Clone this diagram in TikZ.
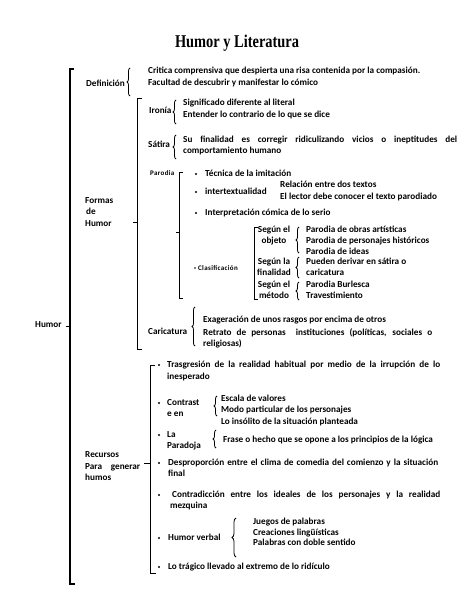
\documentclass[tikz,border=0pt]{standalone}
\usepackage{fontspec}
\usepackage{graphicx}
\setmainfont{Carlito}
\newfontfamily\titlefont{Liberation Serif}
\usetikzlibrary{decorations.pathreplacing}
\begin{document}
\begin{tikzpicture}[x=1pt,y=-1pt,
  t/.style={anchor=mid west,inner sep=0pt,font=\fontsize{9.2}{10}\selectfont\bfseries},
  tn/.style={anchor=mid,inner sep=0pt,font=\fontsize{9.2}{10}\selectfont\bfseries},
  ts/.style={anchor=mid west,inner sep=0pt,font=\fontsize{7}{8}\selectfont\bfseries\addfontfeature{LetterSpace=5}},
  brk/.style={line width=0.8pt},
  bigbrk/.style={line width=1.6pt},
  brc/.style={decorate,decoration={brace,amplitude=3pt},line width=0.8pt},
  dot/.style={circle,fill,inner sep=0pt,minimum size=2.2pt}
]
\useasboundingbox (0,0) rectangle (474,613);
\fill[white] (0,0) rectangle (474,613);

% title
\node[inner sep=0pt,font=\fontsize{18}{20}\selectfont\titlefont\bfseries] (title) at (237,43) {\scalebox{0.8}[1]{Humor y Literatura}};

% Humor bracket
\node[t] (humor) at (35,325) {Humor};
\draw[bigbrk] (74,69) -- (70,69) -- (70,584) -- (75,584);
\draw[brk] (70,326) -- (66,326);

% Definicion
\node[t] (def) at (86,84) {Definición};
\draw[brc] (130,96) -- (130,68);
\node[t] (def1) at (148,71) {Critica comprensiva que despierta una risa contenida por la compasión.};
\node[t] (def2) at (148,83) {Facultad de descubrir y manifestar lo cómico};

% Formas de Humor
\node[t] (f1) at (85,201) {Formas};
\node[t] (f2) at (86,212) {de};
\node[t] (f3) at (85,224) {Humor};
\draw[brk] (142,98) -- (137,98) -- (137,349) -- (142,349);
\draw[brk] (137,222) -- (133,222);

% Ironia
\node[t] (iro) at (149,111) {Ironía};
\draw[brc] (176,124) -- (176,100);
\node[t] (iro1) at (183,103) {Significado diferente al literal};
\node[t] (iro2) at (183,115) {Entender lo contrario de lo que se dice};

% Satira
\node[t] (sat) at (148,145) {Sátira};
\draw[brc] (176,159) -- (176,135);
\node[t] (sat1) at (183,140) {\makebox[274pt][s]{Su finalidad es corregir ridiculizando vicios o ineptitudes del}};
\node[t] (sat2) at (183,151) {comportamiento humano};

% Parodia
\node[ts] (par) at (150,173) {Parodia};
\draw[brk] (183,172) -- (179,172) -- (179,298) -- (183,298);
\draw[brk] (179,232) -- (176,232);
\node[dot] (b1) at (196,174) {};
\node[t] (p1) at (205,174) {Técnica de la imitación};
\node[dot] (b2) at (196,192) {};
\node[t] (p2) at (205,192) {intertextualidad};
\node[t] (p2a) at (280,185) {Relación entre dos textos};
\node[t] (p2b) at (280,197) {El lector debe conocer el texto parodiado};
\node[dot] (b3) at (196,213) {};
\node[t] (p3) at (205,213) {Interpretación cómica de lo serio};
\node[dot,minimum size=1.8pt] (b4) at (195,268) {};
\node[ts] (clas) at (198,268) {Clasificación};
\draw[brk] (258,227) -- (254,227) -- (254,299) -- (258,299);

\node[tn] (o1) at (274,230) {Según el};
\node[tn] (o2) at (274,241) {objeto};
\draw[brc] (299,253) -- (299,227);
\node[t] (o1a) at (306,230) {Parodia de obras artísticas};
\node[t] (o1b) at (306,241) {Parodia de personajes históricos};
\node[t] (o1c) at (306,252) {Parodia de ideas};

\node[tn] (fi1) at (274,262) {Según la};
\node[tn] (fi2) at (274,273) {finalidad};
\draw[brc] (299,278) -- (299,257);
\node[t] (fi1a) at (306,262) {Pueden derivar en sátira o};
\node[t] (fi1b) at (306,273) {caricatura};

\node[tn] (m1) at (274,285) {Según el};
\node[tn] (m2) at (274,296) {método};
\draw[brc] (299,300) -- (299,282);
\node[t] (m1a) at (306,285) {Parodia Burlesca};
\node[t] (m1b) at (306,296) {Travestimiento};

% Caricatura
\node[t] (car) at (148,332) {Caricatura};
\draw[brc] (195,346) -- (195,307);
\node[t] (car1) at (203,320) {Exageración de unos rasgos por encima de otros};
\node[t] (car2) at (203,333) {\makebox[229pt][s]{Retrato de personas \ instituciones (políticas, sociales o}};
\node[t] (car3) at (203,344) {religiosas)};

% Recursos
\node[t] (r1) at (85,455) {Recursos};
\node[t] (r2) at (85,467) {\makebox[55pt][s]{Para generar}};
\node[t] (r3) at (85,478) {humos};
\draw[brk] (155,365) -- (150,365) -- (150,573) -- (156,573);
\draw[brk] (150,463) -- (144,463);

\node[dot] (c1) at (159,365) {};
\node[t] (c1a) at (167,365) {\makebox[273pt][s]{Trasgresión de la realidad habitual por medio de la irrupción de lo}};
\node[t] (c1b) at (167,377) {inesperado};

\node[dot] (c2) at (159,403) {};
\node[t] (c2a) at (167,403) {Contrast};
\node[t] (c2b) at (167,414) {e en};
\draw[brc] (217,416) -- (217,396);
\node[t] (c2x) at (221,399) {Escala de valores};
\node[t] (c2y) at (221,410) {Modo particular de los personajes};
\node[t] (c2z) at (221,422) {Lo insólito de la situación planteada};

\node[dot] (c3) at (159,435) {};
\node[t] (c3a) at (167,435) {La};
\node[t] (c3b) at (167,446) {Paradoja};
\draw[brc] (216,448) -- (216,430);
\node[t] (c3x) at (223,440) {Frase o hecho que se opone a los principios de la lógica};

\node[dot] (c4) at (159,463) {};
\node[t] (c4a) at (168,463) {\makebox[270pt][s]{Desproporción entre el clima de comedia del comienzo y la situación}};
\node[t] (c4b) at (168,474) {final};

\node[dot] (c5) at (159,495) {};
\node[t] (c5a) at (172,495) {\makebox[268pt][s]{Contradicción entre los ideales de los personajes y la realidad}};
\node[t] (c5b) at (170,506) {mezquina};

\node[dot] (c6) at (159,538) {};
\node[t] (c6a) at (168,538) {Humor verbal};
\draw[brc,decoration={brace,amplitude=4pt}] (236,557) -- (236,518);
\node[t] (c6x) at (253,522) {Juegos de palabras};
\node[t] (c6y) at (253,533) {Creaciones lingüísticas};
\node[t] (c6z) at (253,543) {Palabras con doble sentido};

\node[dot] (c7) at (159,567) {};
\node[t] (c7a) at (168,567) {Lo trágico llevado al extremo de lo ridículo};
\end{tikzpicture}
\end{document}
